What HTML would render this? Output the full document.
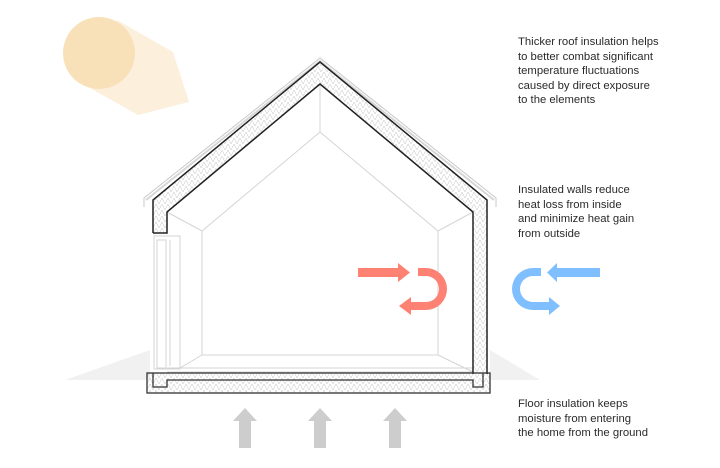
<!DOCTYPE html>
<html><head><meta charset="utf-8"><style>
html,body{margin:0;padding:0;background:#fff;}
.t{position:absolute;left:518px;font-family:"Liberation Sans",sans-serif;font-size:11.3px;line-height:14.6px;color:#2a2a2a;}
</style></head><body>
<div style="position:relative;width:720px;height:468px;overflow:hidden">
<svg width="720" height="468" style="position:absolute;left:0;top:0">
<defs>
<pattern id="zz" width="6" height="6" patternUnits="userSpaceOnUse">
<path d="M0 0 L3 6 L6 0" fill="none" stroke="#cfcfcf" stroke-width="0.6"/>
</pattern>
</defs>
<!-- sun -->
<polygon points="117,20 173,52 189,102 138,115 90,88" fill="#fcf0dd"/>
<circle cx="99" cy="53" r="36" fill="#f8e1b9"/>
<!-- ground -->
<polygon points="65,380 150,350 150,380" fill="#f1f1f1"/>
<polygon points="490,350 540,380 490,380" fill="#f1f1f1"/>
<!-- roof outer layers -->
<polyline points="144,207 144,198 320,58 496,198 496,207" fill="none" stroke="#c8c8c8" stroke-width="1"/>
<polyline points="146,200 320,61 494,200" fill="none" stroke="#d6d6d6" stroke-width="2"/>
<!-- insulation fill -->
<polygon points="153,233 153,199 320,64 487,199 487,374 473,374 473,210 320,84 167,212 167,233" fill="url(#zz)"/>
<polygon points="147,373 490,373 490,393 147,393" fill="url(#zz)"/>
<!-- interior -->
<g fill="none" stroke="#d4d4d4" stroke-width="1">
<polyline points="167,212 202,231 320,132 438,231 473,212"/>
<line x1="320" y1="84" x2="320" y2="132"/>
<polyline points="202,231 202,355 438,355 438,231"/>
<line x1="202" y1="355" x2="180" y2="368"/>
<line x1="438" y1="355" x2="473" y2="372"/>
<line x1="167" y1="368" x2="473" y2="368"/>
<line x1="167" y1="372" x2="473" y2="372"/>
<!-- window -->
<rect x="154" y="236" width="26" height="133"/>
<rect x="157" y="240" width="9" height="128"/>
<line x1="170" y1="240" x2="170" y2="366"/>
</g>
<!-- black structure -->
<polyline points="153,233 153,200 320,62 487,200 487,374" fill="none" stroke="#222" stroke-width="1.5"/>
<polyline points="153,233 167,233 167,212 320,84 473,212 473,374" fill="none" stroke="#222" stroke-width="1.5"/>
<rect x="147" y="373" width="343" height="20" fill="none" stroke="#333" stroke-width="1.3"/>
<polyline points="153,373 153,387 167,387 167,380 473,380 473,387 483,387 483,373" fill="none" stroke="#333" stroke-width="1.3"/>
<!-- gray arrows -->
<g fill="#cdcdcd">
<polygon points="239,448 251,448 251,421 257,421 245,408 233,421 239,421"/>
<polygon points="314,448 326,448 326,421 332,421 320,408 308,421 314,421"/>
<polygon points="389,448 401,448 401,421 407,421 395,408 383,421 389,421"/>
</g>
<!-- red -->
<g fill="#fd8274">
<polygon points="358,268 398,268 398,263 410,272.5 398,282 398,277 358,277"/>
<path d="M418 268 L426 268 A21 21 0 0 1 426 310 L411 310 L411 315 L399 306 L411 297 L411 302 L426 302 A13 13 0 0 0 426 276 L418 276 Z"/>
</g>
<!-- blue -->
<g fill="#7fbfff">
<polygon points="600,268 557,268 557,263 547,272.5 557,282 557,277 600,277"/>
<path d="M541 268 L533 268 A21 21 0 0 0 533 310 L549 310 L549 315 L560 306 L549 297 L549 302 L533 302 A13 13 0 0 1 533 276 L541 276 Z"/>
</g>
</svg>
<div class="t" style="top:35px">Thicker roof insulation helps<br>to better combat significant<br>temperature fluctuations<br>caused by direct exposure<br>to the elements</div>
<div class="t" style="top:183px">Insulated walls reduce<br>heat loss from inside<br>and minimize heat gain<br>from outside</div>
<div class="t" style="top:397px">Floor insulation keeps<br>moisture from entering<br>the home from the ground</div>
</div>
</body></html>
